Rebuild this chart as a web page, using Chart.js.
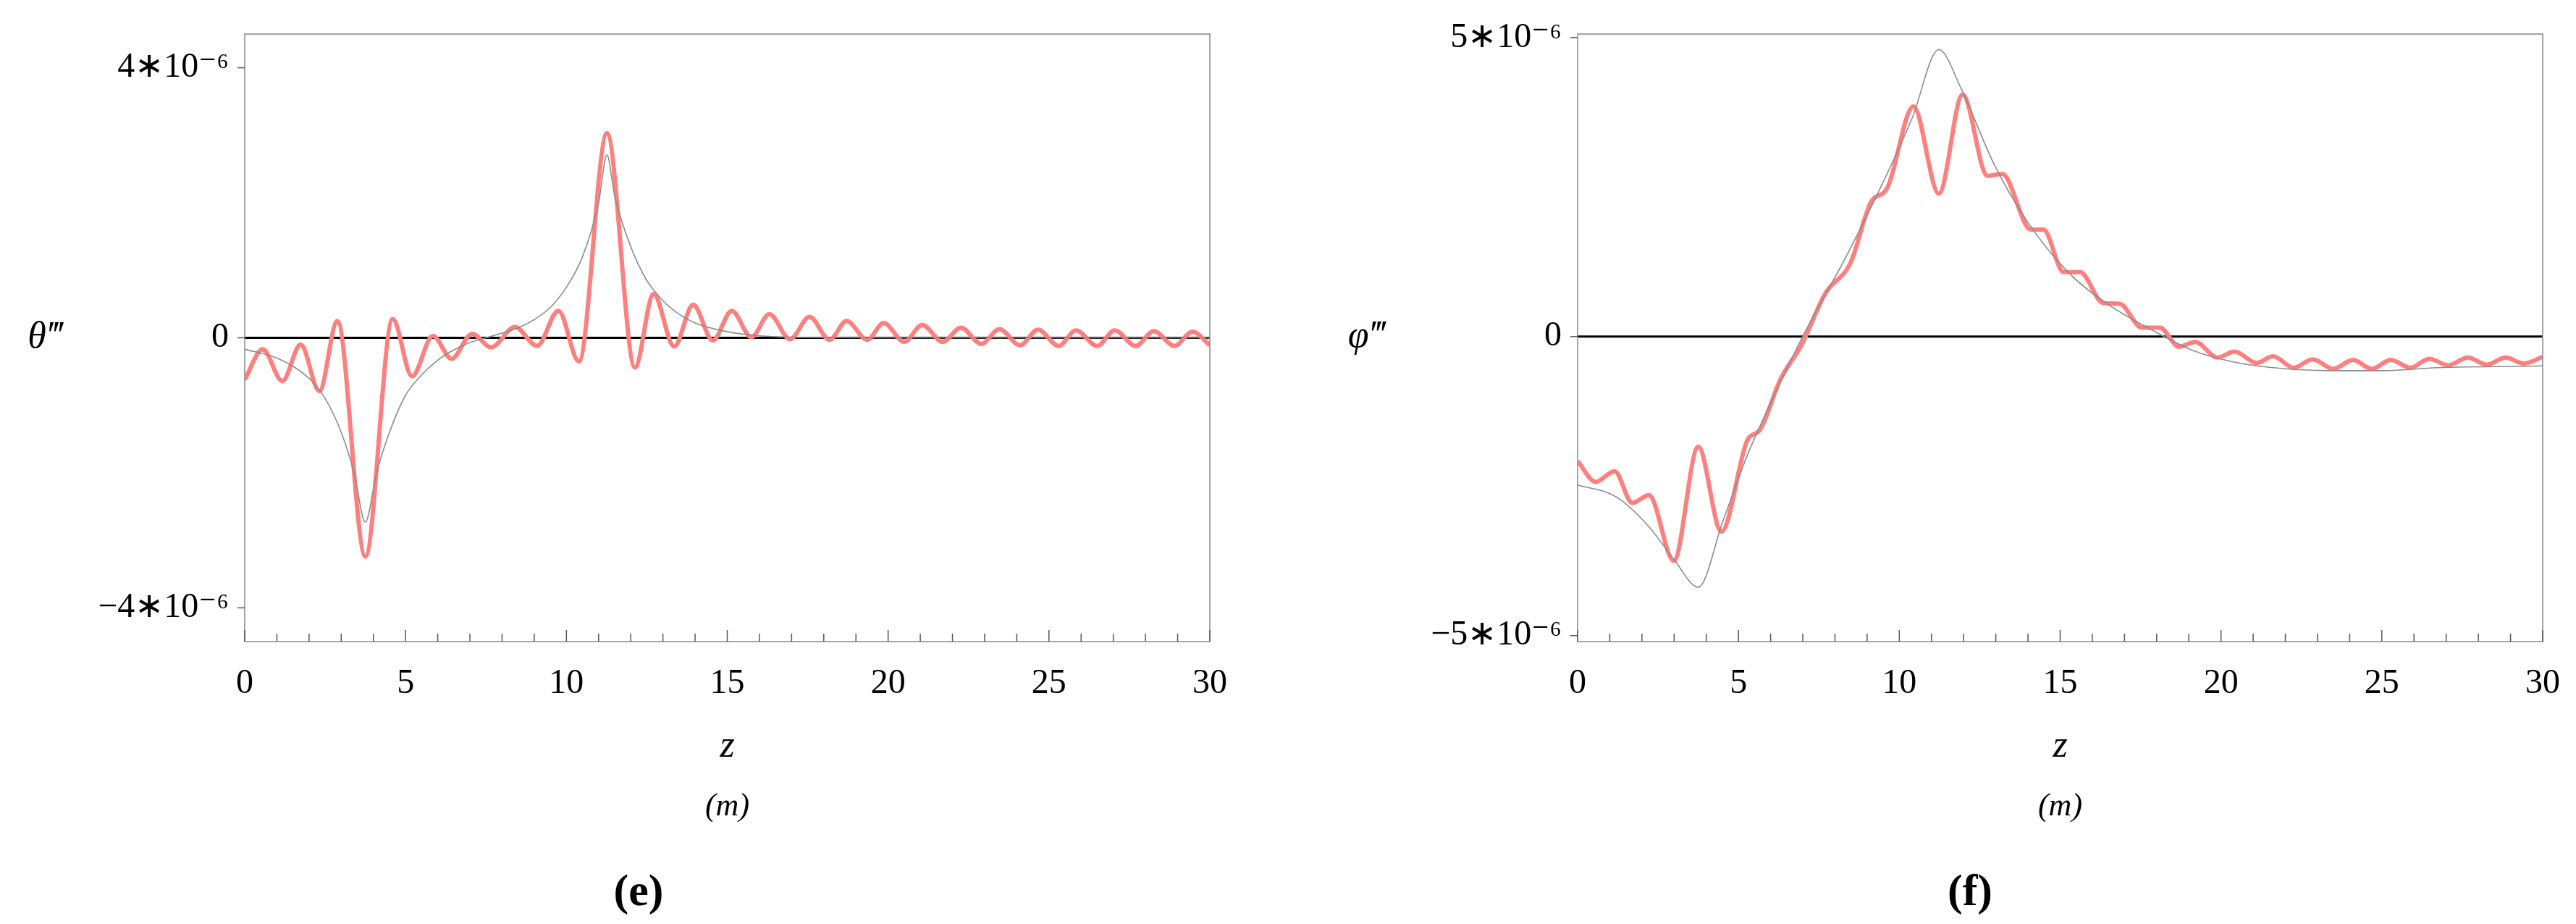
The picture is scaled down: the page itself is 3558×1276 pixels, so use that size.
<!DOCTYPE html>
<html><head><meta charset="utf-8">
<script src="https://cdn.jsdelivr.net/npm/chart.js@4"></script>
<style>body{margin:0;background:#fff;width:3558px;height:1276px;position:relative;overflow:hidden}
.c{position:absolute;top:0;width:1779px;height:1276px}</style></head>
<body>
<div class="c" style="left:0"><canvas id="e"></canvas></div>
<div class="c" style="left:1779px"><canvas id="f"></canvas></div>
<script>
// ---- data (values in units of 1e-6) ----
const thetaX = [0,0.56,1.17,1.74,2.32,2.88,3.75,4.6,5.2,5.85,6.43,7.07,7.66,8.4,9.09,9.75,10.39,11.26,12.13,12.71,13.35,13.94,14.55,15.14,15.75,16.31,16.95,17.56,18.18,18.71,19.35,19.86,20.5,21.06,21.7,22.26,22.9,23.46,24.1,24.66,25.3,25.84,26.5,27.04,27.7,28.26,28.9,29.46,30];
const thetaY = [-0.62,-0.17,-0.64,-0.10,-0.79,0.25,-3.24,0.28,-0.57,0.03,-0.31,0.06,-0.14,0.16,-0.12,0.40,-0.35,3.03,-0.44,0.65,-0.13,0.49,-0.04,0.40,0.01,0.35,-0.02,0.31,-0.03,0.25,-0.03,0.22,-0.06,0.19,-0.06,0.15,-0.09,0.13,-0.11,0.12,-0.12,0.11,-0.12,0.11,-0.12,0.10,-0.12,0.09,-0.11];
const thetaEnvX = [0,1,2,2.5,3,3.4,3.75,4.1,4.5,5,5.5,6,6.5,7,7.5,8,8.5,9,9.5,10,10.5,11,11.26,11.5,12,12.5,13,13.5,14,15,16,17,20,25,30];
const thetaEnvY = [-0.17,-0.3,-0.6,-0.9,-1.4,-2.0,-2.73,-2.0,-1.4,-0.85,-0.55,-0.33,-0.18,-0.07,0,0.07,0.15,0.27,0.45,0.75,1.2,2.0,2.71,2.1,1.35,0.85,0.55,0.35,0.22,0.09,0.03,0.01,0,0,0];
const phiX = [0,0.56,1.15,1.7,2.22,2.99,3.75,4.47,5.28,5.67,6.3,6.95,7.71,8.48,9.11,9.63,10.44,11.23,11.97,12.74,13.2,14.09,14.48,15.11,15.62,16.34,16.85,17.54,18.1,18.69,19.2,19.89,20.42,21.11,21.62,22.26,22.85,23.49,24.1,24.69,25.27,25.89,26.47,27.06,27.67,28.26,28.85,29.41,30];
const phiY = [-2.08,-2.43,-2.25,-2.78,-2.65,-3.75,-1.84,-3.26,-1.73,-1.56,-0.72,-0.15,0.73,1.23,2.24,2.49,3.85,2.39,4.05,2.69,2.72,1.79,1.79,1.08,1.08,0.56,0.55,0.15,0.15,-0.17,-0.09,-0.35,-0.25,-0.44,-0.33,-0.52,-0.38,-0.54,-0.39,-0.54,-0.39,-0.52,-0.37,-0.48,-0.35,-0.47,-0.35,-0.45,-0.34];
const phiEnvX = [0,1.2,2.22,3,3.75,4.52,5.28,6.3,7.07,8.35,9.37,10.39,11.23,11.92,12.94,13.96,15.24,16.52,17.79,19.07,20.35,21.62,23.4,24.94,26.73,30];
const phiEnvY = [-2.48,-2.68,-3.18,-3.73,-4.19,-3.08,-1.98,-0.77,0.08,1.34,2.44,3.64,4.8,4.15,2.89,1.94,1.08,0.53,0.13,-0.22,-0.42,-0.52,-0.57,-0.57,-0.52,-0.49];
const xTicks = [0,5,10,15,20,25,30];
const thetaTicks = [-4,0,4];
const phiTicks = [-5,0,5];

const pts = (xs, ys) => xs.map((x,i)=>({x, y: ys[i]}));
const FONT = "'Liberation Serif', serif";
const sup = {'-':'⁻','6':'⁶'};
function lab(v){ if(v===0) return '0'; return (v<0?'−':'')+Math.abs(v)+'∗10⁻⁶'; }

function make(id, opts){
  const deco = {
    id:'deco',
    beforeDatasetsDraw(ch){
      const {ctx, chartArea:a, scales:{x,y}} = ch;
      ctx.save();
      ctx.strokeStyle='#000'; ctx.lineWidth=3;
      const y0=y.getPixelForValue(0);
      ctx.beginPath(); ctx.moveTo(a.left,y0); ctx.lineTo(a.right,y0); ctx.stroke();
      ctx.restore();
    },
    afterDraw(ch){
      const {ctx, chartArea:a, scales:{x,y}} = ch;
      ctx.save();
      ctx.strokeStyle='#888'; ctx.lineWidth=1.5;
      ctx.strokeRect(a.left,a.top,a.right-a.left,a.bottom-a.top);
      ctx.strokeStyle='#555'; ctx.lineWidth=1.5;
      for(let v=0; v<=30; v++){
        const px=x.getPixelForValue(v), L = v%5===0?16:11;
        ctx.beginPath(); ctx.moveTo(px,a.bottom); ctx.lineTo(px,a.bottom-L); ctx.stroke();
      }
      opts.yTicks.forEach(v=>{const py=y.getPixelForValue(v);
        ctx.beginPath(); ctx.moveTo(a.left-10,py); ctx.lineTo(a.left,py); ctx.stroke();});
      ctx.fillStyle='#000'; ctx.textAlign='center'; ctx.textBaseline='middle';
      ctx.font='italic 52px '+FONT;
      ctx.fillText(opts.ylab, opts.ylabX, y.getPixelForValue(0));
      const cx=(a.left+a.right)/2;
      ctx.fillText('z', cx, 1031);
      ctx.font='italic 44px '+FONT;
      ctx.fillText('(m)', cx, 1114);
      ctx.font='bold 62px '+FONT;
      ctx.fillText(opts.panel, opts.panelX, 1234);
      ctx.restore();
    }
  };
  return new Chart(document.getElementById(id), {
    type:'scatter',
    data:{datasets:[
      {data:pts(opts.envX,opts.envY), showLine:true, borderColor:'#8c8c8c', borderWidth:1.6, pointRadius:0, cubicInterpolationMode:'monotone'},
      {data:pts(opts.sx,opts.sy), showLine:true, borderColor:'#ff7f7f', borderWidth:6, pointRadius:0, cubicInterpolationMode:'monotone'}
    ]},
    options:{
      responsive:false, animation:false, devicePixelRatio:1,
      layout:{padding:{left:0,right:opts.padR,top:47,bottom:0}},
      plugins:{legend:{display:false},tooltip:{enabled:false}},
      scales:{
        x:{type:'linear',min:0,max:30,
          afterBuildTicks(s){s.ticks=xTicks.map(v=>({value:v}));},
          afterFit(s){s.height=390;},
          grid:{display:false}, border:{display:false},
          ticks:{font:{family:FONT,size:48},color:'#000',padding:22,maxRotation:0}},
        y:{type:'linear',min:opts.ymin,max:opts.ymax,
          afterBuildTicks(s){s.ticks=opts.yTicks.map(v=>({value:v}));},
          afterFit(s){s.width=opts.left;},
          grid:{display:false}, border:{display:false},
          ticks:{font:{family:FONT,size:48},color:'#000',padding:14,callback:v=>lab(v)}}
      }
    },
    plugins:[deco]
  });
}
document.getElementById('e').width=1779; document.getElementById('e').height=1276;
document.getElementById('f').width=1779; document.getElementById('f').height=1276;
make('e',{sx:thetaX,sy:thetaY,envX:thetaEnvX,envY:thetaEnvY,ymin:-4.5,ymax:4.5,yTicks:thetaTicks,left:338,padR:108,ylab:'θ‴',ylabX:62,panel:'(e)',panelX:882});
make('f',{sx:phiX,sy:phiY,envX:phiEnvX,envY:phiEnvY,ymin:-5.1,ymax:5.06,yTicks:phiTicks,left:400,padR:45,ylab:'φ‴',ylabX:108,panel:'(f)',panelX:942});
</script>
</body></html>
